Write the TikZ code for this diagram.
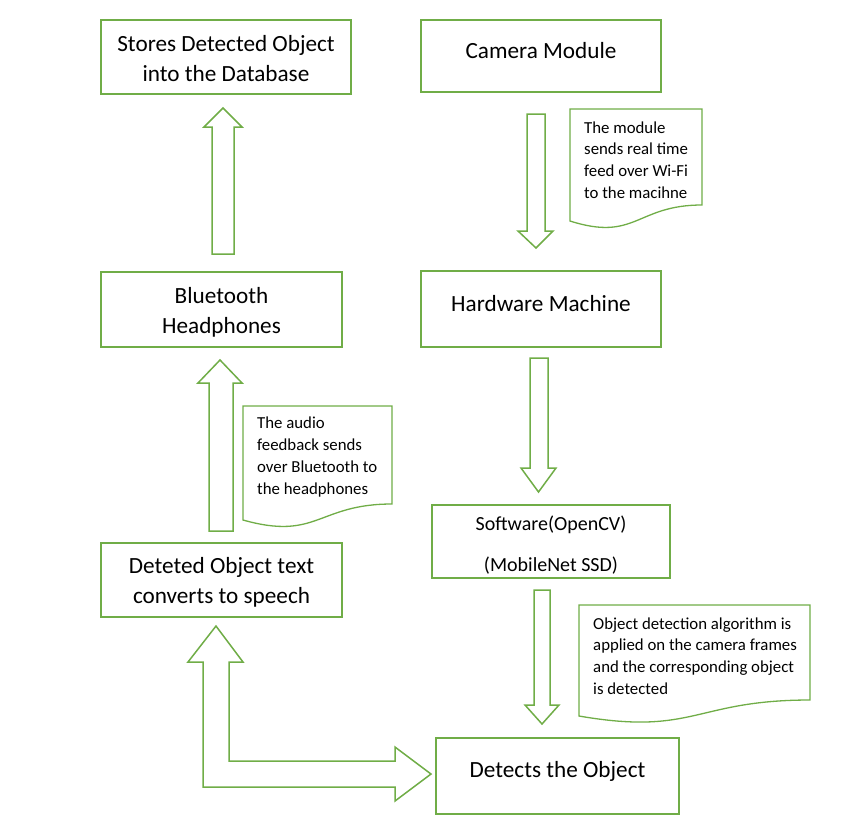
\documentclass[tikz,border=0pt]{standalone}
\usepackage{fontspec}
\setmainfont{Carlito}
\definecolor{offgreen}{HTML}{70AD47}
\begin{document}
\begin{tikzpicture}[x=1pt,y=-1pt,
  box/.style={draw=offgreen,line width=1.5pt,fill=white,inner sep=0pt},
  txt/.style={inner sep=0pt,align=center,font=\fontsize{23.2}{30}\selectfont},
  blk/.style={draw=offgreen,line width=1.5pt,fill=white,line join=miter},
  doc/.style={draw=offgreen,line width=1.3pt,fill=white},
  notetext/.style={anchor=west,align=left,inner sep=0pt,font=\fontsize{16.8}{21.7}\selectfont}]
\useasboundingbox (0,0) rectangle (866,825);
% boxes
\node[box,minimum width=250pt,minimum height=74pt] (store) at (226,57) {};
\node[txt] (storet) at (226,59) {Stores Detected Object\\into the Database};
\node[box,minimum width=240pt,minimum height=72pt] (cam) at (541,56) {};
\node[txt] (camt) at (541,50.5) {Camera Module};
\node[box,minimum width=241pt,minimum height=75pt] (bt) at (221.5,309.5) {};
\node[txt] (btt) at (221.5,312) {Bluetooth\\Headphones};
\node[box,minimum width=240pt,minimum height=76pt] (hw) at (541,309) {};
\node[txt] (hwt) at (541,304) {Hardware Machine};
\node[box,minimum width=238pt,minimum height=73pt] (sw) at (551,541.5) {};
\node[txt,font=\fontsize{20}{41}\selectfont] (swt) at (551,545.5) {Software(OpenCV)\\(MobileNet SSD)};
\node[box,minimum width=241pt,minimum height=74pt] (tts) at (221.5,580) {};
\node[txt] (ttst) at (221.5,582) {Deteted Object text\\converts to speech};
\node[box,minimum width=243pt,minimum height=76pt] (det) at (557.5,776) {};
\node[txt] (dett) at (557.5,771) {Detects the Object};
% block arrows
\draw[blk] (223,108) -- (242,127) -- (234,127) -- (234,254) -- (212,254) -- (212,127) -- (204,127) -- cycle;
\draw[blk] (527,114) -- (545,114) -- (545,231) -- (553,231) -- (536,248) -- (518,231) -- (527,231) -- cycle;
\draw[blk] (530,358) -- (548,358) -- (548,468) -- (556,468) -- (538.5,492) -- (521,468) -- (530,468) -- cycle;
\draw[blk] (534,590) -- (550,590) -- (550,705) -- (559,705) -- (542,724) -- (525,705) -- (534,705) -- cycle;
\draw[blk] (220,360) -- (242,383) -- (233,383) -- (233,531) -- (209,531) -- (209,383) -- (198,383) -- cycle;
\draw[blk] (216,626) -- (243,662) -- (229,662) -- (229,761) -- (395,761) -- (395,747) -- (431,774) -- (395,801) -- (395,787) -- (203,787) -- (203,662) -- (188,662) -- cycle;
% documents
\draw[doc] (570,109) -- (702,109) -- (702,205) .. controls (636,205) and (636,242) .. (570,221) -- cycle;
\node[notetext] (n1) at (584,160) {The module\\sends real time\\feed over Wi-Fi\\to the macihne};
\draw[doc] (243,406) -- (392,406) -- (392,504) .. controls (317.5,504) and (317.5,541) .. (243,520) -- cycle;
\node[notetext] (n2) at (257,457) {The audio\\feedback sends\\over Bluetooth to\\the headphones};
\draw[doc] (579,605) -- (810,605) -- (810,700) .. controls (694.5,700) and (694.5,736) .. (579,716) -- cycle;
\node[notetext] (n3) at (593,656) {Object detection algorithm is\\applied on the camera frames\\and the corresponding object\\is detected};
\end{tikzpicture}
\end{document}
